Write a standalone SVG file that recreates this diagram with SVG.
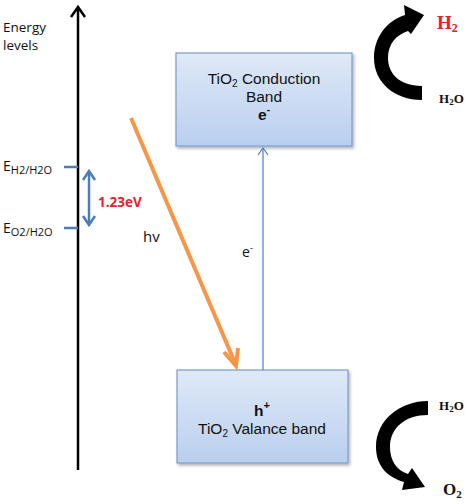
<svg xmlns="http://www.w3.org/2000/svg" width="474" height="504" viewBox="0 0 474 504">
<defs>
<linearGradient id="boxg" x1="0" y1="0" x2="0" y2="1">
<stop offset="0" stop-color="#dfe9f7"/>
<stop offset="1" stop-color="#b9cfef"/>
</linearGradient>
<filter id="sh" x="-10%" y="-10%" width="130%" height="130%">
<feDropShadow dx="1.5" dy="2" stdDeviation="1.5" flood-color="#000" flood-opacity="0.3"/>
</filter>
</defs>
<style>
.box{fill:url(#boxg);stroke:#7a9cc8;stroke-width:1.2;filter:url(#sh)}
.bt{font-family:"Liberation Sans","Open Sans",sans-serif;font-size:15.5px;fill:#111;text-anchor:middle}
.lbl{font-family:"Open Sans","Liberation Sans",sans-serif;font-size:13.5px;fill:#111}
.tr{font-family:"Liberation Serif",serif;font-weight:bold;font-size:13px;fill:#111}
.blue{stroke:#4a7ebb;fill:none}
</style>
<g id="axis">
<line x1="78" y1="8" x2="78" y2="470" stroke="#000" stroke-width="2.5"/>
<path d="M71,17 L78,7 L85,17" fill="none" stroke="#000" stroke-width="2.5"/>
<text class="lbl" x="3" y="32">Energy</text>
<text class="lbl" x="3" y="50">levels</text>
</g>
<g id="levels">
<line class="blue" x1="64" y1="167" x2="78" y2="167" stroke-width="2.5"/>
<line class="blue" x1="64" y1="228" x2="78" y2="228" stroke-width="2.5"/>
<text class="lbl" x="3" y="171" style="font-size:14px">E<tspan font-size="11" dy="3">H2/H2O</tspan></text>
<text class="lbl" x="3" y="233" style="font-size:14px">E<tspan font-size="11" dy="3">O2/H2O</tspan></text>
</g>
<g id="gap">
<line class="blue" x1="89" y1="172" x2="89" y2="224" stroke-width="2.5"/>
<path class="blue" d="M83,180 L89,171 L95,180" stroke-width="2.5"/>
<path class="blue" d="M83,216 L89,225 L95,216" stroke-width="2.5"/>
<text x="98" y="207" font-family="Open Sans,Liberation Sans,sans-serif" font-weight="bold" font-size="13.5" fill="#e8202a">1.23eV</text>
</g>
<g id="cb">
<rect class="box" x="176" y="53" width="176" height="93"/>
<text class="bt" x="264" y="84">TiO<tspan font-size="10" dy="3">2</tspan><tspan dy="-3"> Conduction</tspan></text>
<text class="bt" x="264" y="102">Band</text>
<text class="bt" x="264" y="120" font-weight="bold">e<tspan font-size="10" dy="-7">-</tspan></text>
</g>
<g id="vb">
<rect class="box" x="177" y="370" width="171" height="93"/>
<text class="bt" x="262" y="416" font-weight="bold">h<tspan font-size="11" dy="-7">+</tspan></text>
<text class="bt" x="262" y="434">TiO<tspan font-size="10" dy="3">2</tspan><tspan dy="-3"> Valance band</tspan></text>
</g>
<g id="connectors">
<line x1="263" y1="370" x2="263" y2="148" stroke="#4a7ebb" stroke-width="1.2"/>
<path d="M258,155 L263,148 L268,155" fill="none" stroke="#4a7ebb" stroke-width="1.2"/>
<line x1="131" y1="118" x2="235" y2="363" stroke="#f79646" stroke-width="4"/>
<path d="M224,352 L236,366 L238,348" fill="none" stroke="#f79646" stroke-width="4"/>
<text class="lbl" x="143" y="242" style="font-size:15px">hv</text>
<text class="lbl" x="242" y="257" style="font-size:14px">e<tspan font-size="9" dy="-6">-</tspan></text>
</g>
<g id="h2">
<path d="M422,86 C398,86 388,72 388,58 C388,44 396,35 408,31 L411,34 L424,15 L404,5 L405,15 C386,21 374,38 374,58 C374,82 394,100 422,100 Z" fill="#000"/>
<text class="tr" x="437" y="29" style="font-size:19px;fill:#e8202a">H<tspan font-size="12" dy="3">2</tspan></text>
<text class="tr" x="439" y="103">H<tspan font-size="9" dy="2">2</tspan><tspan dy="-2">O</tspan></text>
</g>
<g id="o2">
<path d="M428,401 C400,401 376,420 376,447 C376,468 390,478 404,482 L402,490 L425,487 L412,468 L408,474 C396,470 390,460 390,447 C390,428 405,415 428,415 Z" fill="#000"/>
<text class="tr" x="439" y="410">H<tspan font-size="9" dy="2">2</tspan><tspan dy="-2">O</tspan></text>
<text class="tr" x="443" y="495" style="font-size:17px">O<tspan font-size="11" dy="3">2</tspan></text>
</g>
</svg>
